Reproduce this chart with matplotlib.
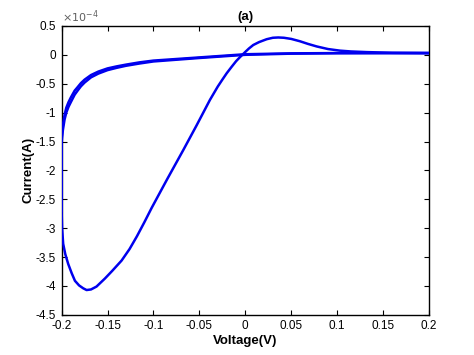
import matplotlib
matplotlib.use('Agg')
import matplotlib.pyplot as plt
from matplotlib.ticker import FuncFormatter, MultipleLocator

# Values (current in units of 1e-4 A)
# return sweep, 0.2 V -> -0.2 V (two overlapping cycles)
v_back = [0.2, 0.15, 0.1, 0.05, 0.0, -0.05, -0.1, -0.115, -0.13, -0.14,
          -0.15, -0.16, -0.168, -0.175, -0.179, -0.1826, -0.1858, -0.19,
          -0.1925, -0.1949, -0.1968, -0.1986, -0.1995, -0.2, -0.2, -0.2]
i_back1 = [0.03, 0.03, 0.03, 0.025, 0.01, -0.045, -0.10, -0.13, -0.17, -0.20,
           -0.235, -0.29, -0.35, -0.43, -0.49, -0.56, -0.62, -0.74,
           -0.82, -0.915, -1.04, -1.21, -1.35, -1.5, -2.1, -2.7]
i_back2 = [0.03, 0.03, 0.028, 0.02, 0.0, -0.055, -0.115, -0.15, -0.19, -0.225,
           -0.265, -0.325, -0.39, -0.48, -0.545, -0.62, -0.69, -0.82,
           -0.9, -1.0, -1.12, -1.3, -1.42, -1.55, -2.1, -2.7]

# forward sweep, -0.2 V -> 0.2 V
v_fwd = [-0.2, -0.1995, -0.1983, -0.196, -0.1928, -0.189, -0.1855, -0.181,
         -0.1765, -0.1728, -0.168, -0.162, -0.1528, -0.145, -0.1347, -0.126,
         -0.118, -0.11, -0.102, -0.085, -0.0676, -0.053, -0.0385, -0.03,
         -0.025, -0.0203, -0.015, -0.01, -0.0058, 0.0, 0.004, 0.0087, 0.015,
         0.0233, 0.03, 0.0359, 0.042, 0.05, 0.0594, 0.068, 0.0777, 0.09,
         0.1031, 0.115, 0.1322, 0.16, 0.2]
i_fwd = [-2.7, -3.0, -3.27, -3.45, -3.62, -3.78, -3.91, -3.99,
         -4.04, -4.07, -4.06, -4.01, -3.87, -3.74, -3.56, -3.36,
         -3.14, -2.9, -2.65, -2.15, -1.65, -1.22, -0.78, -0.55,
         -0.43, -0.32, -0.21, -0.11, -0.04, 0.05, 0.11, 0.17, 0.22,
         0.27, 0.295, 0.30, 0.295, 0.275, 0.235, 0.19, 0.145, 0.10,
         0.072, 0.058, 0.047, 0.035, 0.03]

x_ticks = [-0.2, -0.15, -0.1, -0.05, 0, 0.05, 0.1, 0.15, 0.2]

plt.rcParams['font.family'] = ['Liberation Sans', 'DejaVu Sans']
plt.rcParams['axes.unicode_minus'] = False

fig = plt.figure(figsize=(4.74, 3.55), dpi=100)
ax = fig.add_axes([0.130, 0.113, 0.775, 0.814])

line_color = '#0000ee'
for cur in (i_back1, i_back2):
    ax.plot(v_back, cur, color=line_color, lw=1.8, zorder=3,
            solid_joinstyle='round')
ax.plot(v_fwd, i_fwd, color=line_color, lw=1.8, zorder=3,
        solid_joinstyle='round')

ax.set_xlim(-0.2, 0.2)
ax.set_ylim(-4.5, 0.5)
ax.set_xticks(x_ticks)
ax.yaxis.set_major_locator(MultipleLocator(0.5))
ax.xaxis.set_major_formatter(FuncFormatter(lambda v, p: f"{v:g}"))
ax.yaxis.set_major_formatter(FuncFormatter(lambda v, p: f"{v:g}"))
ax.tick_params(direction='in', length=3.5, width=0.8, top=True, right=True,
               labelsize=8.5, pad=4)
for s in ax.spines.values():
    s.set_linewidth(1.0)

ax.text(0.0, 1.004, r'$\times10^{-4}$', transform=ax.transAxes,
        ha='left', va='bottom', fontsize=8, color='#606060')

ax.set_title('(a)', fontsize=9.5, fontweight='bold', pad=4)
ax.set_xlabel('Voltage(V)', fontsize=9.5, fontweight='bold', labelpad=2)
ax.set_ylabel('Current(A)', fontsize=9.5, fontweight='bold', labelpad=1)

fig.savefig('out.png', dpi=100)
